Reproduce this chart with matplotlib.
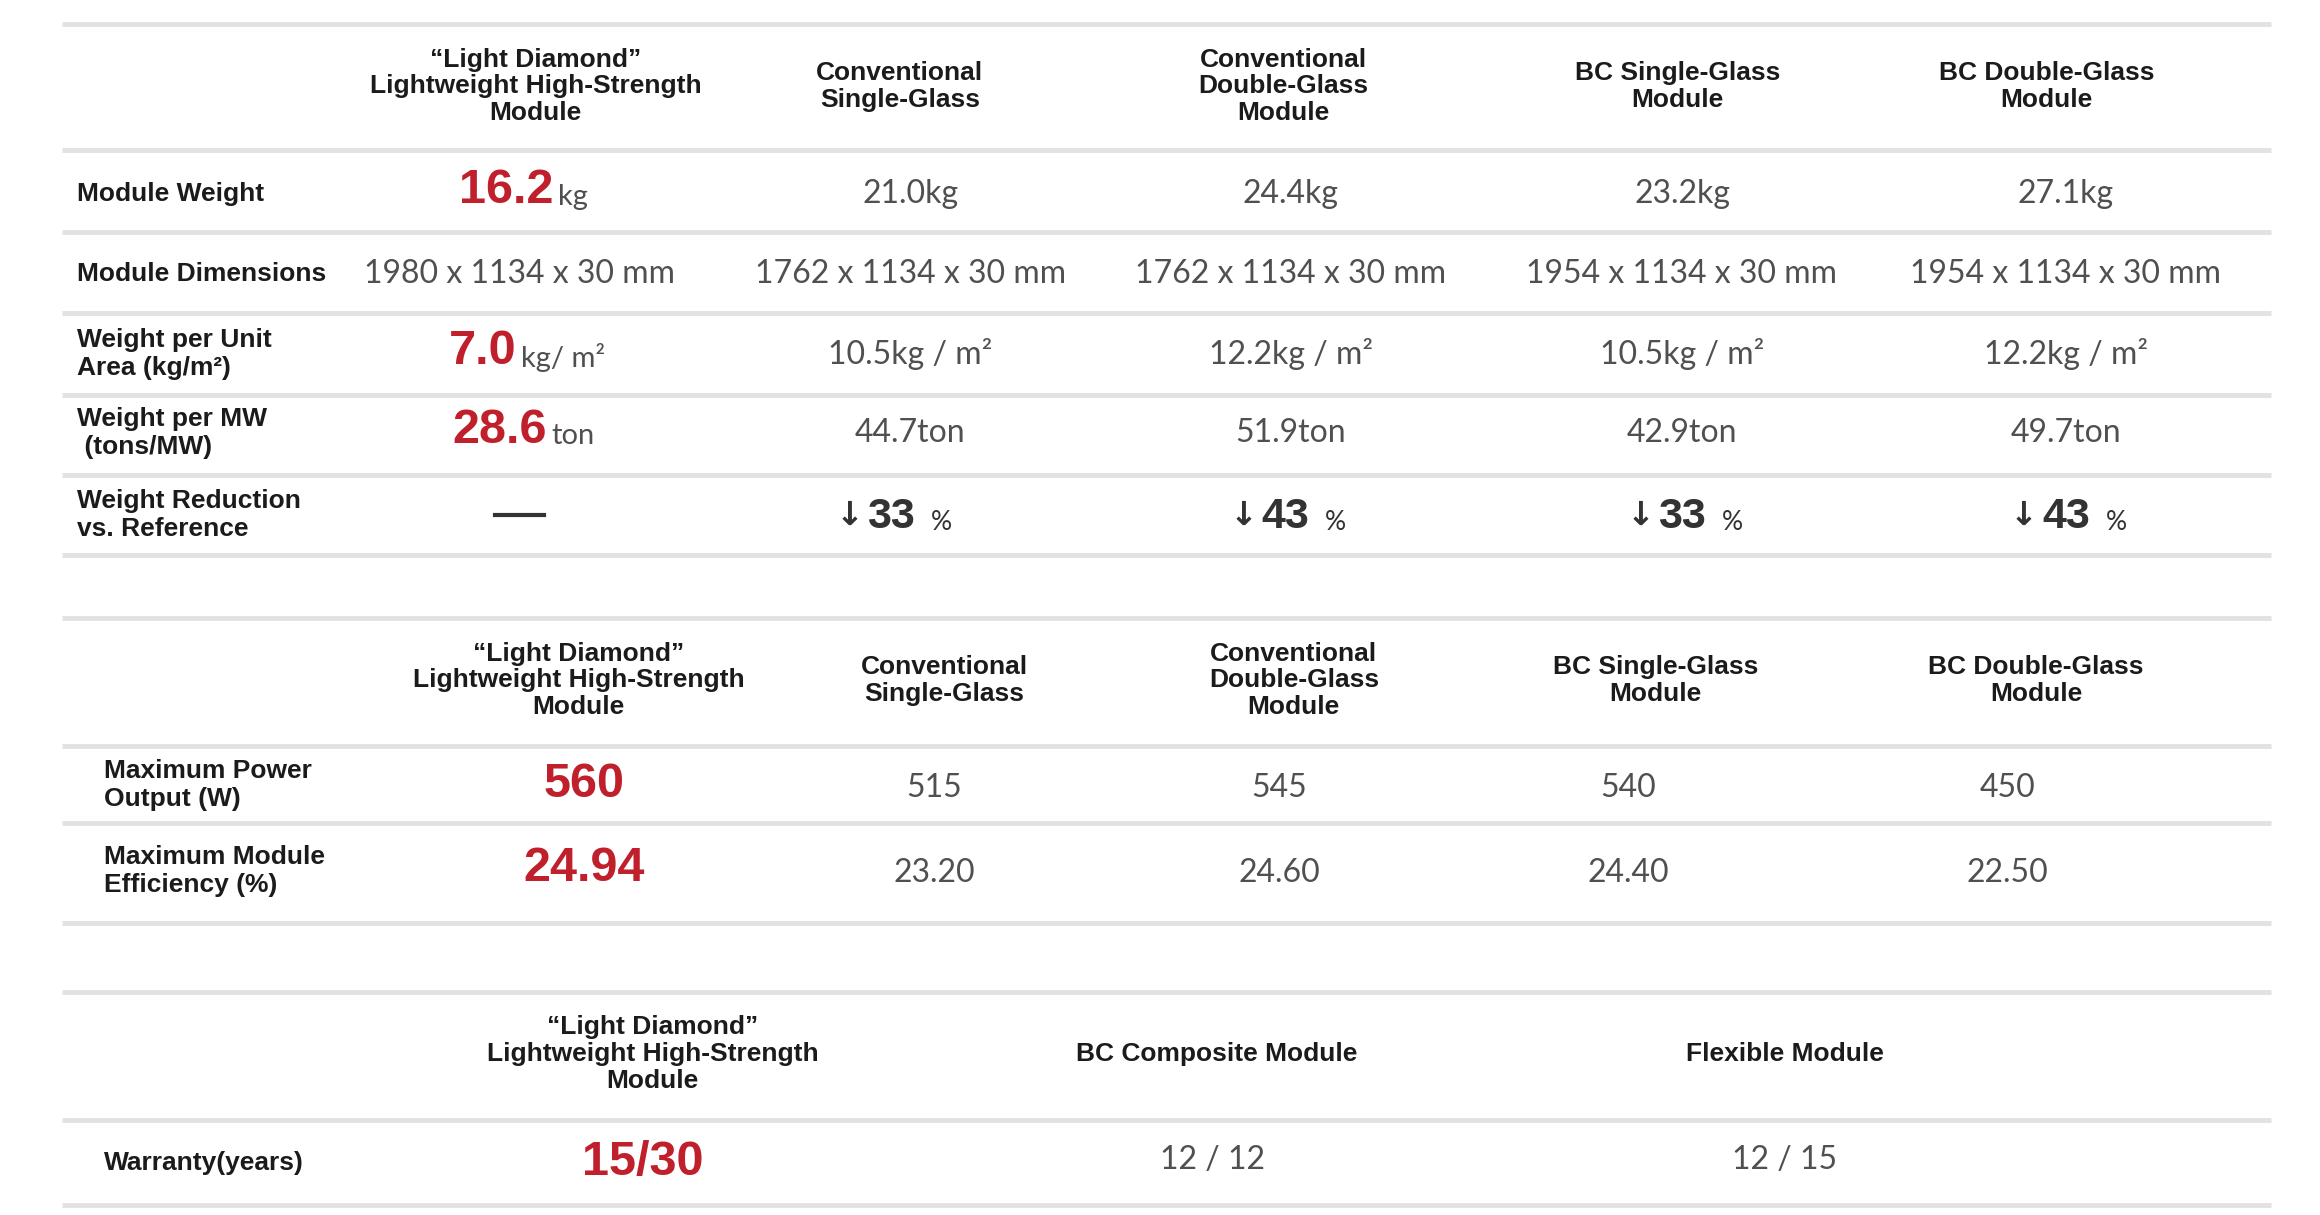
import matplotlib.pyplot as plt

# table 1
t1_headers = ['\u201cLight Diamond\u201d\nLightweight High-Strength\nModule', 'Conventional\nSingle-Glass',
              'Conventional\nDouble-Glass\nModule', 'BC Single-Glass\nModule', 'BC Double-Glass\nModule']
t1_rows = ['Module Weight', 'Module Dimensions', 'Weight per Unit\nArea (kg/m\u00b2)', 'Weight per MW\n (tons/MW)',
           'Weight Reduction\nvs. Reference']
ld_weight = [('16.2', 'kg'), ('7.0', 'kg/ m\u00b2'), ('28.6', 'ton')]
ld_dims = '1980 x 1134 x 30 mm'
other_weight = ['21.0kg', '24.4kg', '23.2kg', '27.1kg']
other_dims = ['1762 x 1134 x 30 mm', '1762 x 1134 x 30 mm', '1954 x 1134 x 30 mm', '1954 x 1134 x 30 mm']
other_area = ['10.5kg / m\u00b2', '12.2kg / m\u00b2', '10.5kg / m\u00b2', '12.2kg / m\u00b2']
other_mw = ['44.7ton', '51.9ton', '42.9ton', '49.7ton']
reduction = ['33', '43', '33', '43']

# table 2
t2_headers = list(t1_headers)
t2_rows = ['Maximum Power\nOutput (W)', 'Maximum Module\nEfficiency (%)']
power = ['560', '515', '545', '540', '450']
efficiency = ['24.94', '23.20', '24.60', '24.40', '22.50']

# table 3
t3_headers = ['\u201cLight Diamond\u201d\nLightweight High-Strength\nModule', 'BC Composite Module', 'Flexible Module']
t3_rows = ['Warranty(years)']
warranty = ['15/30', '12 / 12', '12 / 15']

RED = '#c01f2c'
DARK = '#1b1b1b'
GRAY = '#505050'
LINE = '#e2e2e2'
LBL = ['Liberation Sans', 'DejaVu Sans']
VAL = ['Lato', 'DejaVu Sans']

fig = plt.figure(figsize=(23.2, 12.15), dpi=100)
ax = fig.add_axes([0, 0, 1, 1])
ax.set_xlim(0, 1560)
ax.set_ylim(816, 0)
ax.axis('off')

def hline(y):
    ax.plot([42, 1527], [y, y], color=LINE, lw=3.5, solid_capstyle='butt')

def header(x, y, s):
    ax.text(x, y, s, ha='center', va='center', fontsize=19, fontweight='bold', color=DARK,
            family=LBL, linespacing=1.15)

def label(x, y, s):
    ax.text(x, y, s, ha='left', va='center', fontsize=19, fontweight='bold', color=DARK,
            family=LBL, linespacing=1.2)

def value(x, y, s):
    ax.text(x, y, s, ha='center', va='center', fontsize=23, color=GRAY, family=VAL)

def red(x, y, s, ha='center', size=35):
    ax.text(x, y, s, ha=ha, va='center', fontsize=size, fontweight='bold', color=RED, family=LBL)

# ---- table 1
for y in [16, 101, 156, 210, 265, 319, 373]:
    hline(y)
for x, h in zip([360, 605, 863, 1128, 1376], t1_headers):
    header(x, 58, h)
row_y = [130, 184, 238, 291, 346]
for y, r in zip(row_y, t1_rows):
    label(52, y, r)
for (num, unit), y, split in zip(ld_weight, [130, 238, 291], [372, 347, 368]):
    red(split, y - 2, num, ha='right')
    ax.text(split + 3, y + 2, unit, ha='left', va='center', fontsize=21, color=GRAY, family=VAL)
value(349, 184, ld_dims)
vx = [612, 868, 1131, 1389]
for i, x in enumerate(vx):
    value(x, 130, other_weight[i])
    value(x, 184, other_dims[i])
    value(x, 238, other_area[i])
    value(x, 291, other_mw[i])
ax.plot([333, 366], [346, 346], color='#333333', lw=3)
for x, r in zip([571, 836, 1103, 1361], reduction):
    ax.text(x, 346, '\u2193', ha='center', va='center', fontsize=24, fontweight='bold', color='#333333')
    ax.text(x + 12, 347, r, ha='left', va='center', fontsize=31, fontweight='bold', color='#333333', family=LBL)
    ax.text(x + 55, 351, '%', ha='left', va='center', fontsize=19, color='#333333', family=VAL)

# ---- table 2
for y in [415, 501, 553, 620]:
    hline(y)
for x, h in zip([389, 635, 870, 1113, 1369], t2_headers):
    header(x, 457, h)
for y, r in zip([527, 585], t2_rows):
    label(70, y, r)
px = [393, 628, 860, 1095, 1350]
red(px[0], 527, power[0])
red(px[0], 583, efficiency[0])
for x, p, e in zip(px[1:], power[1:], efficiency[1:]):
    value(x, 529, p)
    value(x, 586, e)

# ---- table 3
for y in [666, 752, 809]:
    hline(y)
for x, h in zip([439, 818, 1200], t3_headers):
    header(x, 708, h)
label(70, 781, t3_rows[0])
red(432, 781, warranty[0])
for x, w in zip([815, 1200], warranty[1:]):
    value(x, 779, w)

fig.savefig('out.png', dpi=100, facecolor='white')
